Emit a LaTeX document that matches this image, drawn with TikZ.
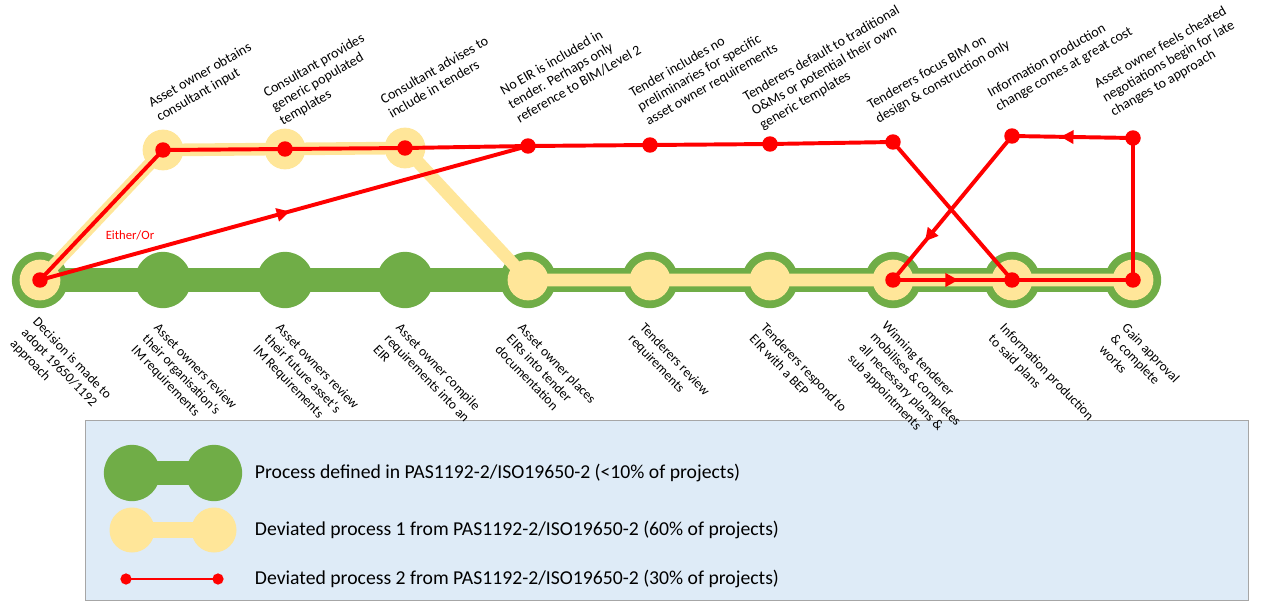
\documentclass[tikz,border=0pt]{standalone}
\usepackage{fontspec}
\setmainfont{Carlito}
\usetikzlibrary{positioning,decorations.markings}

\definecolor{pasgreen}{RGB}{112,173,71}
\definecolor{devyellow}{RGB}{255,230,153}
\definecolor{devred}{RGB}{255,0,0}
\definecolor{legfill}{RGB}{222,235,247}

\tikzset{
  gdot/.style={circle,fill=pasgreen,minimum size=40pt,inner sep=0pt},
  ydot/.style={circle,fill=devyellow,minimum size=29pt,inner sep=0pt},
  rdot/.style={circle,fill=devred,minimum size=11pt,inner sep=0pt},
  gline/.style={line width=17pt,pasgreen},
  yline/.style={line width=9pt,devyellow,line join=round},
  rline/.style={line width=2.8pt,devred,line join=round},
  midarrow/.style={postaction={decorate},decoration={markings,
    mark=at position #1 with {\fill[devred] (4pt,0) -- (-5pt,5pt) -- (-5pt,-5pt) -- cycle;}}},
  toplabel/.style={rotate=30,anchor=south west,align=left,font=\fontsize{10}{11.5}\selectfont,inner sep=0pt},
  botlabel/.style={rotate=-46,anchor=north west,align=left,font=\fontsize{9.6}{11.2}\selectfont,inner sep=0pt},
  legtext/.style={anchor=west,font=\fontsize{14}{16}\selectfont}
}

\begin{document}
\begin{tikzpicture}[x=0.025cm,y=-0.025cm]
  \useasboundingbox (0,0) rectangle (1280,612);

  % legend
  \draw[fill=legfill,draw=gray!70] (85,420) rectangle (1248,600);
  \coordinate (ga) at (132,473); \coordinate (gb) at (214,473);
  \draw[gline] (ga) -- (gb);
  \node[gdot] at (ga) {}; \node[gdot] at (gb) {};
  \coordinate (ya) at (132,530); \coordinate (yb) at (214,530);
  \draw[line width=12pt,devyellow] (ya) -- (yb);
  \node[ydot,minimum size=32pt] at (ya) {}; \node[ydot,minimum size=32pt] at (yb) {};
  \coordinate (ra) at (126,579); \coordinate (rb) at (218,579);
  \draw[line width=2pt,devred] (ra) -- (rb);
  \node[rdot,minimum size=8pt] at (ra) {}; \node[rdot,minimum size=8pt] at (rb) {};
  \node[legtext] (k1) at (250,473) {Process defined in PAS1192-2/ISO19650-2 (<10\% of projects)};
  \node[legtext] (k2) at (250,530) {Deviated process 1 from PAS1192-2/ISO19650-2 (60\% of projects)};
  \node[legtext] (k3) at (250,579) {Deviated process 2 from PAS1192-2/ISO19650-2 (30\% of projects)};

  % bottom row positions
  \coordinate (b1) at (40,280);
  \coordinate (b2) at (163,280);
  \coordinate (b3) at (285,280);
  \coordinate (b4) at (405,280);
  \coordinate (b5) at (528,280);
  \coordinate (b6) at (650,280);
  \coordinate (b7) at (770,280);
  \coordinate (b8) at (893,280);
  \coordinate (b9) at (1012,280);
  \coordinate (b10) at (1133,280);
  % top row positions
  \coordinate (t1) at (163,150);
  \coordinate (t2) at (285,149);
  \coordinate (t3) at (405,148);
  \coordinate (t4) at (528,146);
  \coordinate (t5) at (650,145);
  \coordinate (t6) at (770,144);
  \coordinate (t7) at (893,142);
  \coordinate (t8) at (1012,136);
  \coordinate (t9) at (1133,138);

  % process defined
  \draw[gline] (b1) -- (b10);
  \foreach \i in {1,...,10} \node[gdot] at (b\i) {};

  % deviated process 1
  \draw[yline] (b1) -- (t1) -- (t2) -- (t3) -- (b5) -- (b10);
  \foreach \p in {b1,t1,t2,t3,b5,b6,b7,b8,b9,b10} \node[ydot] at (\p) {};

  % deviated process 2
  \draw[rline] (b1) -- (t1) -- (t2) -- (t3) -- (t4) -- (t5) -- (t6) -- (t7) -- (b9);
  \draw[rline,midarrow=0.5] (b1) -- (t4);
  \draw[rline] (b10) -- (t9);
  \draw[rline,midarrow=0.55] (t9) -- (t8);
  \draw[rline,midarrow=0.7] (t8) -- (b8);
  \draw[rline,midarrow=0.5] (b8) -- (b9);
  \draw[rline] (b9) -- (b10);
  \foreach \p in {b1,t1,t2,t3,t4,t5,t6,t7,t8,t9,b8,b9,b10} \node[rdot] at (\p) {};
  \node[text=devred,font=\fontsize{9}{10}\selectfont] (eo) at (130,235) {Either/Or};

  % labels above
  \node[toplabel] (l1) at (161,124) {Asset owner obtains\\consultant input};
  \node[toplabel] (l2) at (284,128) {Consultant provides\\generic populated\\templates};
  \node[toplabel] (l3) at (392,119) {Consultant advises to\\include in tenders};
  \node[toplabel] (l4) at (520,124) {No EIR is included in\\tender. Perhaps only\\reference to BIM/Level 2};
  \node[toplabel] (l5) at (650,128) {Tender includes no\\preliminaries for specific\\asset owner requirements};
  \node[toplabel] (l6) at (764,132) {Tenderers default to traditional\\O\&Ms or potential their own\\generic templates};
  \node[toplabel] (l7) at (880,126) {Tenderers focus BIM on\\design \& construction only};
  \node[toplabel] (l8) at (1000,114) {Information production\\change comes at great cost};
  \node[toplabel] (l9) at (1115,119) {Asset owner feels cheated\\negotiations begin for late\\changes to approach};

  % labels below
  \node[botlabel] (d1) at (39,316) {Decision is made to\\adopt 19650/1192\\approach};
  \node[botlabel] (d2) at (160,322) {Asset owners review\\their organisation`s\\IM requirements};
  \node[botlabel] (d3) at (282,322) {Asset owners review\\their future asset`s\\IM Requirements};
  \node[botlabel] (d4) at (402,322) {Asset owner compile\\requirements into an\\EIR};
  \node[botlabel] (d5) at (524,322) {Asset owner places\\EIRs into tender\\documentation};
  \node[botlabel] (d6) at (646,322) {Tenderers review\\requirements};
  \node[botlabel] (d7) at (767,322) {Tenderers respond to\\EIR with a BEP};
  \node[botlabel] (d8) at (888,320) {Winning tenderer\\mobilises \& completes\\all necessary plans \&\\sub appointments};
  \node[botlabel] (d9) at (1006,322) {Information production\\to said plans};
  \node[botlabel] (d10) at (1128,322) {Gain approval\\\& complete\\works};
\end{tikzpicture}
\end{document}
